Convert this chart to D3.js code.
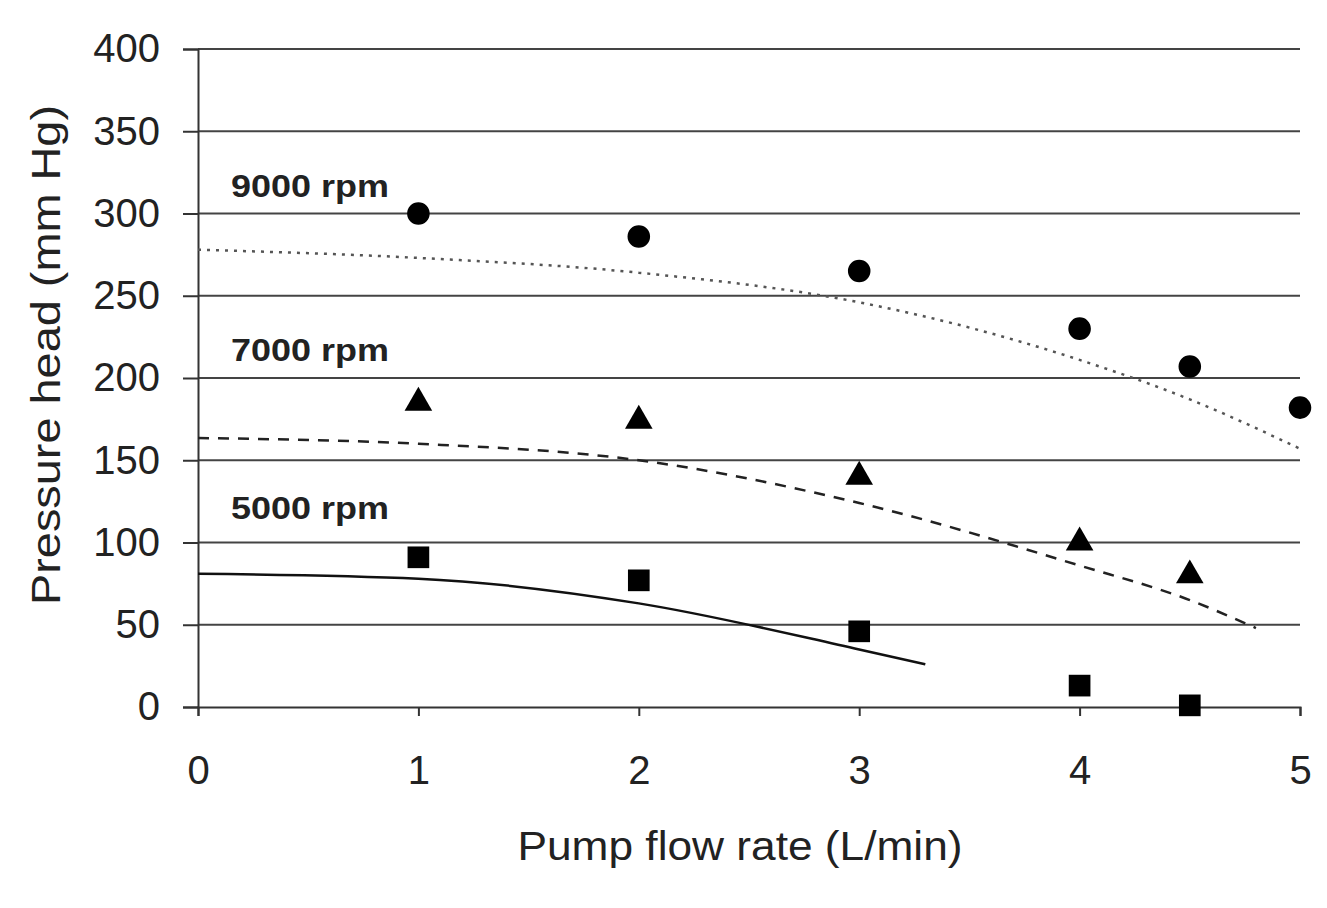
<!DOCTYPE html>
<html>
<head>
<meta charset="utf-8">
<script src="https://cdn.jsdelivr.net/npm/d3@7"></script>
<style>
  body { margin: 0; background: #fff; }
  text { font-family: "Liberation Sans", Arial, sans-serif; fill: #222; }
</style>
</head>
<body>
<script>
// measured points
const flowX = [1, 2, 3, 4, 4.5, 5];
const rpm9000 = [300, 286, 265, 230, 207, 182];
const rpm7000 = [185, 174, 140, 100, 80];
const rpm5000 = [91, 77, 46, 13, 1];

// model curves
const fit9000X = [0, 1, 2, 3, 4, 4.5, 5];
const fit9000Y = [278, 273, 264, 246, 211, 187, 157];
const fit7000X = [0, 1, 2, 3, 4, 4.5, 4.8];
const fit7000Y = [163.5, 160, 150, 124, 86, 65, 48];
const fit5000X = [0, 1, 2, 3, 3.3];
const fit5000Y = [81, 78, 63, 35, 26];

const speedLabels = ["9000 rpm", "7000 rpm", "5000 rpm"];
const labelY = [300, 200, 104];

const xTicks = [0, 1, 2, 3, 4, 5];
const yTicks = [0, 50, 100, 150, 200, 250, 300, 350, 400];

const W = 1327, H = 908;
const svg = d3.select("body").append("svg").attr("width", W).attr("height", H);

const x = d3.scaleLinear().domain([0, 5]).range([198, 1300]);
const y = d3.scaleLinear().domain([0, 400]).range([707, 49]);

// gridlines
svg.append("g").selectAll("line").data(yTicks.filter(d => d > 0)).enter().append("line")
    .attr("x1", x(0)).attr("x2", x(5))
    .attr("y1", d => y(d)).attr("y2", d => y(d))
    .attr("stroke", "#444").attr("stroke-width", 2);

// y axis
const gy = svg.append("g").attr("transform", "translate(" + x(0) + ",0)")
    .call(d3.axisLeft(y).tickValues(yTicks).tickSize(15).tickPadding(23));
gy.select(".domain").attr("stroke", "#333").attr("stroke-width", 2);
gy.selectAll(".tick line").attr("stroke", "#333").attr("stroke-width", 2);
gy.selectAll("text").attr("font-size", 40).attr("fill", "#222")
    .attr("font-family", "Liberation Sans, Arial, sans-serif");

// x axis
const gx = svg.append("g").attr("transform", "translate(0," + y(0) + ")")
    .call(d3.axisBottom(x).tickValues(xTicks).tickFormat(d3.format("d")).tickSize(9).tickPadding(40));
gx.select(".domain").attr("stroke", "#333").attr("stroke-width", 2);
gx.selectAll(".tick line").attr("stroke", "#333").attr("stroke-width", 2);
gx.selectAll("text").attr("font-size", 40).attr("fill", "#222")
    .attr("font-family", "Liberation Sans, Arial, sans-serif");

// axis titles
svg.append("text").attr("x", 740).attr("y", 860).attr("text-anchor", "middle")
    .attr("font-size", 40).attr("textLength", 445).attr("lengthAdjust", "spacingAndGlyphs")
    .text("Pump flow rate (L/min)");
svg.append("text").attr("transform", "translate(60,355) rotate(-90)")
    .attr("text-anchor", "middle").attr("font-size", 40)
    .attr("textLength", 500).attr("lengthAdjust", "spacingAndGlyphs")
    .text("Pressure head (mm Hg)");

// fit curves
const line = d3.line().x(d => x(d[0])).y(d => y(d[1])).curve(d3.curveMonotoneX);
const fits = [
  { xs: fit9000X, ys: fit9000Y, dash: "3,6", color: "#555" },
  { xs: fit7000X, ys: fit7000Y, dash: "11,9", color: "#222" },
  { xs: fit5000X, ys: fit5000Y, dash: null, color: "#111" }
];
fits.forEach(f => {
  svg.append("path").datum(f.xs.map((v, i) => [v, f.ys[i]]))
      .attr("d", line).attr("fill", "none")
      .attr("stroke", f.color).attr("stroke-width", 2.5)
      .attr("stroke-dasharray", f.dash);
});

// markers
svg.append("g").selectAll("path").data(rpm9000).enter().append("path")
    .attr("d", d3.symbol(d3.symbolCircle, 400))
    .attr("transform", (d, i) => "translate(" + x(flowX[i]) + "," + y(d) + ")")
    .attr("fill", "#000");
svg.append("g").selectAll("path").data(rpm7000).enter().append("path")
    .attr("d", d3.symbol(d3.symbolTriangle, 330))
    .attr("transform", (d, i) => "translate(" + x(flowX[i]) + "," + y(d) + ")")
    .attr("fill", "#000");
svg.append("g").selectAll("path").data(rpm5000).enter().append("path")
    .attr("d", d3.symbol(d3.symbolSquare, 470))
    .attr("transform", (d, i) => "translate(" + x(flowX[i]) + "," + y(d) + ")")
    .attr("fill", "#000");

// speed labels
svg.append("g").selectAll("text").data(speedLabels).enter().append("text")
    .attr("x", x(0.15)).attr("y", (d, i) => y(labelY[i]) - 17)
    .attr("font-size", 32).attr("font-weight", "bold")
    .attr("textLength", 158).attr("lengthAdjust", "spacingAndGlyphs")
    .text(d => d);
</script>
</body>
</html>
